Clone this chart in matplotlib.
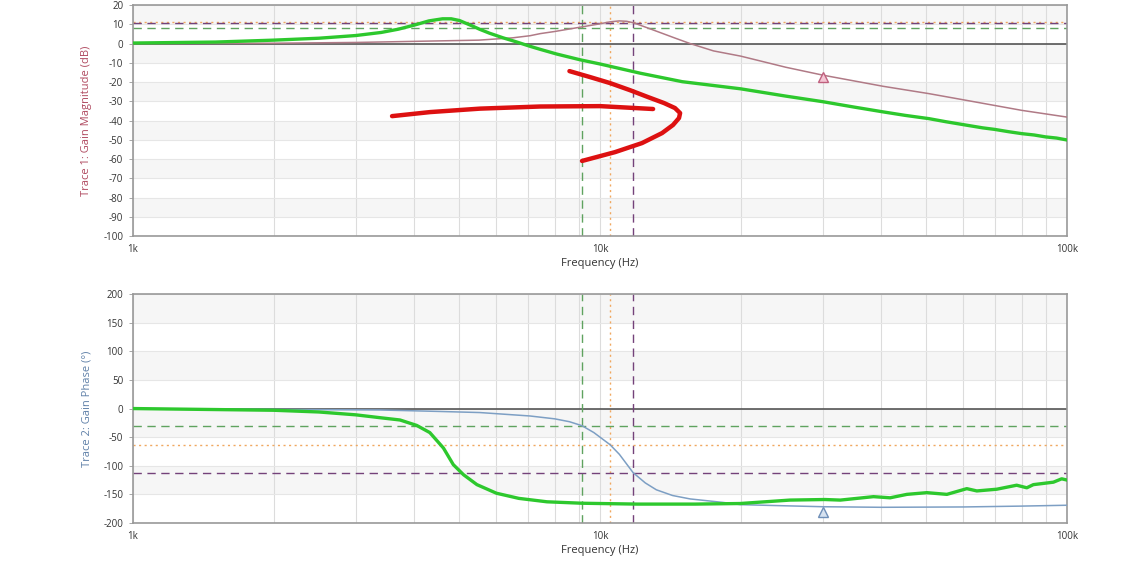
import matplotlib
matplotlib.use('Agg')
import matplotlib.pyplot as plt
from matplotlib.ticker import FixedLocator, NullFormatter

plt.rcParams['font.family'] = ['Open Sans', 'DejaVu Sans']

# Trace 1: gain magnitude (dB)
mag_green_f = [1000, 1500, 2000, 2500, 3000, 3400, 3700, 4000, 4300, 4600, 4800, 5000,
               5300, 5530, 5800, 6200, 6600, 7080, 7450, 8070, 9060, 10000, 12200,
               15000, 20000, 25000, 30000, 35000, 40400, 45000, 50600, 55000, 60900,
               66000, 70000, 75000, 80000, 85000, 90000, 95000, 100000]
mag_green_db = [0.3, 0.8, 1.8, 2.8, 4.2, 5.8, 7.5, 9.6, 11.8, 12.9, 12.9, 12.0,
                9.4, 7.4, 5.4, 3.0, 1.0, -1.4, -3.0, -5.4, -8.4, -10.6, -15.4,
                -19.8, -23.5, -27.3, -30.2, -33.0, -35.5, -37.3, -39.0, -40.6, -42.4,
                -43.8, -44.6, -45.8, -46.8, -47.5, -48.5, -49.1, -50.1]

mag_ref_f = [1000, 2000, 3000, 4500, 5500, 6500, 7080, 7450, 8000, 9150, 10000, 10500,
             11000, 11400, 11800, 12500, 13500, 14500, 15600, 17500, 20000, 25000,
             30000, 40400, 50600, 60900, 80000, 100000]
mag_ref_db = [0.0, 0.2, 0.6, 1.4, 1.8, 3.0, 4.1, 5.2, 6.3, 8.7, 10.3, 11.3,
              11.8, 11.6, 10.8, 8.6, 5.6, 2.8, 0.0, -3.8, -6.5, -12.3,
              -16.4, -22.2, -26.0, -29.5, -34.7, -38.2]

# Trace 2: gain phase (deg)
ph_ref_f = [1000, 2000, 3380, 4500, 5530, 7080, 8000, 8600, 9150, 9700, 10500, 11000,
            11770, 12500, 13200, 14300, 15600, 18300, 20000, 25000, 30000, 40000,
            60000, 80000, 100000]
ph_ref_deg = [0, -1.5, -2.5, -5, -7, -13, -18, -23, -30, -42, -63, -80,
              -112, -130, -142, -152, -158, -164, -168, -170, -171.6, -172.6,
              -172, -170.5, -169]

ph_green_f = [1000, 2000, 2500, 3000, 3380, 3730, 4050, 4320, 4620, 4850, 5100, 5450,
              6000, 6700, 7700, 9150, 12000, 16000, 19940, 25500, 30300, 32700, 38500,
              41800, 45400, 50100, 55300, 61000, 64100, 70700, 78000, 82000, 84700,
              93500, 97400, 100000]
ph_green_deg = [0, -3, -6, -11, -16, -20, -29.5, -42, -69, -98, -115.6, -133,
                -148, -157, -163, -165.5, -167, -167, -166, -160, -159, -160, -154,
                -156, -150, -147, -150, -140, -144, -141, -134, -138.5, -133,
                -128.7, -122.8, -125]

# cursors
cursor_f = [9150, 10500, 11770]
cursor_db = [8.3, 11.4, 10.8]
cursor_deg = [-30.5, -63, -112]
cursor_colors = ['#5fa35f', '#f0a860', '#74427a']
cursor_styles = [(0, (6, 4)), (0, (1.5, 2.5)), (0, (6, 4))]

marker_f = 30000
marker_db = -17.4
marker_deg = -181

# red hand-drawn annotation (in Trace 1 coordinates)
stroke1_f = [3586, 4325, 5534, 7440, 10000, 12990]
stroke1_db = [-37.7, -35.6, -33.8, -32.7, -32.5, -34.0]
stroke2_f = [8600, 9520, 10500, 11590, 12670, 13710, 14470, 14840, 14760, 14330,
             13580, 12300, 10770, 9150]
stroke2_db = [-14.3, -17.4, -20.5, -24.2, -27.8, -30.9, -33.5, -36.1, -38.7, -42.3,
              -46.5, -51.7, -56.4, -61.0]

x_ticks = [1000, 10000, 100000]
x_ticklabels = ['1k', '10k', '100k']
minor_ticks = [m * d for d in (1000, 10000) for m in range(2, 10)]

fig = plt.figure(figsize=(11.4, 5.7), dpi=100)
ax1 = fig.add_axes([0.1167, 0.586, 0.8193, 0.405])
ax2 = fig.add_axes([0.1167, 0.0825, 0.8193, 0.4015])


def style_axis(ax, ylim, step, ylabel, ycolor):
    ax.set_xscale('log')
    ax.set_xlim(1000, 100000)
    ax.set_ylim(*ylim)
    yt = list(range(ylim[0], ylim[1] + 1, step))
    ax.set_yticks(yt)
    ax.set_yticklabels([str(v) for v in yt])
    for i, lo in enumerate(yt[:-1]):
        if (len(yt) - 2 - i) % 2 == 0:
            ax.axhspan(lo, lo + step, color='#f6f6f6', zorder=0, lw=0)
    ax.set_xticks(x_ticks)
    ax.set_xticklabels(x_ticklabels)
    ax.xaxis.set_minor_locator(FixedLocator(minor_ticks))
    ax.xaxis.set_minor_formatter(NullFormatter())
    ax.grid(True, which='both', axis='x', color='#dcdcdc', lw=0.8, zorder=1)
    ax.grid(True, which='major', axis='y', color='#e6e6e6', lw=0.8, zorder=1)
    ax.tick_params(axis='x', which='both', length=0, pad=6, labelsize=7, colors='#333333')
    ax.tick_params(axis='y', length=3, width=0.6, color='#999999', labelsize=7,
                   labelcolor='#333333', pad=4)
    for s in ax.spines.values():
        s.set_color('#999999')
        s.set_linewidth(1.2)
    ax.set_xlabel('Frequency (Hz)', fontsize=8, color='#333333', labelpad=2)
    ax.set_ylabel(ylabel, fontsize=8, color=ycolor, labelpad=8)
    ax.axhline(0, color='#555555', lw=1.2, zorder=2)


style_axis(ax1, (-100, 20), 10, 'Trace 1: Gain Magnitude (dB)', '#b04a60')
style_axis(ax2, (-200, 200), 50, 'Trace 2: Gain Phase (°)', '#5f80a8')

for f, c, ls in zip(cursor_f, cursor_colors, cursor_styles):
    ax1.axvline(f, color=c, ls=ls, lw=1.0, zorder=2)
    ax2.axvline(f, color=c, ls=ls, lw=1.0, zorder=2)
for v, c, ls in zip(cursor_db, cursor_colors, cursor_styles):
    ax1.axhline(v, color=c, ls=ls, lw=1.0, zorder=2)
for v, c, ls in zip(cursor_deg, cursor_colors, cursor_styles):
    ax2.axhline(v, color=c, ls=ls, lw=1.0, zorder=2)

ax1.plot(mag_ref_f, mag_ref_db, color='#b07a86', lw=1.1, zorder=3)
ax1.plot(mag_green_f, mag_green_db, color='#2dc82d', lw=2.4, zorder=4)
ax1.plot([marker_f], [marker_db], marker='^', ms=7, mfc='#f4c6d4', mec='#c0607e',
         mew=1.0, zorder=5)

ax2.plot(ph_ref_f, ph_ref_deg, color='#7d9fc4', lw=1.1, zorder=3)
ax2.plot(ph_green_f, ph_green_deg, color='#2dc82d', lw=2.4, zorder=4)
ax2.plot([marker_f], [marker_deg], marker='^', ms=7, mfc='#d6e2f0', mec='#6f8fb8',
         mew=1.0, zorder=5)

ax1.plot(stroke1_f, stroke1_db, color='#dd1111', lw=3.2, solid_capstyle='round',
         solid_joinstyle='round', zorder=6)
ax1.plot(stroke2_f, stroke2_db, color='#dd1111', lw=3.2, solid_capstyle='round',
         solid_joinstyle='round', zorder=6)

fig.savefig('out.png', dpi=100)
